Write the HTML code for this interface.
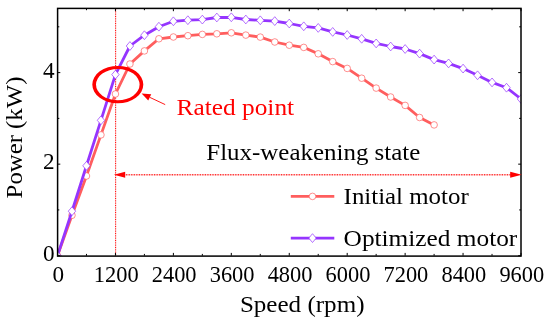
<!DOCTYPE html>
<html><head><meta charset="utf-8"><title>Power vs Speed</title>
<style>
html,body{margin:0;padding:0;background:#fff;}
body{width:550px;height:329px;overflow:hidden;}
svg{display:block;}
text{font-family:"Liberation Serif","DejaVu Serif",serif;font-size:23.3px;fill:#000;}
</style></head><body>
<svg width="550" height="329" viewBox="0 0 550 329">
<rect width="550" height="329" fill="#fff"/>
<!-- guides -->
<line x1="115.6" y1="9" x2="115.6" y2="255" stroke="#ff1010" stroke-width="1.1" stroke-dasharray="0.9 0.85"/>
<line x1="121" y1="174.75" x2="514" y2="174.75" stroke="#ff1010" stroke-width="1.4" stroke-dasharray="0.85 0.8"/>
<!-- series -->
<clipPath id="pc"><rect x="57.5" y="8.4" width="463.5" height="247.6"/></clipPath>
<g clip-path="url(#pc)">
<polyline fill="none" stroke="#ff5e5e" stroke-width="2.8" stroke-linejoin="round" points="57.5,255.7 71.98,215.3 86.47,176 100.95,134.9 115.44,94 129.93,64 144.41,50.9 158.89,38.8 173.38,37 187.87,35.7 202.35,34.4 216.83,33.8 231.32,32.8 245.81,35.1 260.29,37.1 274.77,42 289.26,45.2 303.75,47.4 318.23,53.8 332.71,61.6 347.2,68.4 361.69,78.2 376.17,88.1 390.65,97 405.14,105.4 419.62,117.5 434.11,124.9"/>
<circle cx="57.5" cy="255.7" r="3.3" fill="#fff" stroke="#ff5e5e" stroke-width="0.7"/><circle cx="71.98" cy="215.3" r="3.3" fill="#fff" stroke="#ff5e5e" stroke-width="0.7"/><circle cx="86.47" cy="176" r="3.3" fill="#fff" stroke="#ff5e5e" stroke-width="0.7"/><circle cx="100.95" cy="134.9" r="3.3" fill="#fff" stroke="#ff5e5e" stroke-width="0.7"/><circle cx="115.44" cy="94" r="3.3" fill="#fff" stroke="#ff5e5e" stroke-width="0.7"/><circle cx="129.93" cy="64" r="3.3" fill="#fff" stroke="#ff5e5e" stroke-width="0.7"/><circle cx="144.41" cy="50.9" r="3.3" fill="#fff" stroke="#ff5e5e" stroke-width="0.7"/><circle cx="158.89" cy="38.8" r="3.3" fill="#fff" stroke="#ff5e5e" stroke-width="0.7"/><circle cx="173.38" cy="37" r="3.3" fill="#fff" stroke="#ff5e5e" stroke-width="0.7"/><circle cx="187.87" cy="35.7" r="3.3" fill="#fff" stroke="#ff5e5e" stroke-width="0.7"/><circle cx="202.35" cy="34.4" r="3.3" fill="#fff" stroke="#ff5e5e" stroke-width="0.7"/><circle cx="216.83" cy="33.8" r="3.3" fill="#fff" stroke="#ff5e5e" stroke-width="0.7"/><circle cx="231.32" cy="32.8" r="3.3" fill="#fff" stroke="#ff5e5e" stroke-width="0.7"/><circle cx="245.81" cy="35.1" r="3.3" fill="#fff" stroke="#ff5e5e" stroke-width="0.7"/><circle cx="260.29" cy="37.1" r="3.3" fill="#fff" stroke="#ff5e5e" stroke-width="0.7"/><circle cx="274.77" cy="42" r="3.3" fill="#fff" stroke="#ff5e5e" stroke-width="0.7"/><circle cx="289.26" cy="45.2" r="3.3" fill="#fff" stroke="#ff5e5e" stroke-width="0.7"/><circle cx="303.75" cy="47.4" r="3.3" fill="#fff" stroke="#ff5e5e" stroke-width="0.7"/><circle cx="318.23" cy="53.8" r="3.3" fill="#fff" stroke="#ff5e5e" stroke-width="0.7"/><circle cx="332.71" cy="61.6" r="3.3" fill="#fff" stroke="#ff5e5e" stroke-width="0.7"/><circle cx="347.2" cy="68.4" r="3.3" fill="#fff" stroke="#ff5e5e" stroke-width="0.7"/><circle cx="361.69" cy="78.2" r="3.3" fill="#fff" stroke="#ff5e5e" stroke-width="0.7"/><circle cx="376.17" cy="88.1" r="3.3" fill="#fff" stroke="#ff5e5e" stroke-width="0.7"/><circle cx="390.65" cy="97" r="3.3" fill="#fff" stroke="#ff5e5e" stroke-width="0.7"/><circle cx="405.14" cy="105.4" r="3.3" fill="#fff" stroke="#ff5e5e" stroke-width="0.7"/><circle cx="419.62" cy="117.5" r="3.3" fill="#fff" stroke="#ff5e5e" stroke-width="0.7"/><circle cx="434.11" cy="124.9" r="3.3" fill="#fff" stroke="#ff5e5e" stroke-width="0.7"/>
<polyline fill="none" stroke="#9535ff" stroke-width="2.8" stroke-linejoin="round" points="57.5,255.7 71.98,211.2 86.47,165.8 100.95,120.3 115.44,74.6 129.93,46 144.41,35.2 158.89,26.7 173.38,21.3 187.87,20.2 202.35,19.6 216.83,17.5 231.32,17.3 245.81,19.5 260.29,20.3 274.77,21.1 289.26,23.5 303.75,26.3 318.23,27.9 332.71,31.9 347.2,35 361.69,38.8 376.17,43.4 390.65,46.5 405.14,49 419.62,53.6 434.11,59.6 448.59,63.4 463.08,68.6 477.56,75.3 492.05,82.4 506.53,87.7 521.02,99"/>
<path d="M53.8 255.7L57.5 251.3L61.2 255.7L57.5 260.1Z" fill="#fff" stroke="#9535ff" stroke-width="0.7"/><path d="M68.28 211.2L71.98 206.8L75.68 211.2L71.98 215.6Z" fill="#fff" stroke="#9535ff" stroke-width="0.7"/><path d="M82.77 165.8L86.47 161.4L90.17 165.8L86.47 170.2Z" fill="#fff" stroke="#9535ff" stroke-width="0.7"/><path d="M97.25 120.3L100.95 115.9L104.65 120.3L100.95 124.7Z" fill="#fff" stroke="#9535ff" stroke-width="0.7"/><path d="M111.74 74.6L115.44 70.2L119.14 74.6L115.44 79Z" fill="#fff" stroke="#9535ff" stroke-width="0.7"/><path d="M126.23 46L129.93 41.6L133.63 46L129.93 50.4Z" fill="#fff" stroke="#9535ff" stroke-width="0.7"/><path d="M140.71 35.2L144.41 30.8L148.11 35.2L144.41 39.6Z" fill="#fff" stroke="#9535ff" stroke-width="0.7"/><path d="M155.19 26.7L158.89 22.3L162.59 26.7L158.89 31.1Z" fill="#fff" stroke="#9535ff" stroke-width="0.7"/><path d="M169.68 21.3L173.38 16.9L177.08 21.3L173.38 25.7Z" fill="#fff" stroke="#9535ff" stroke-width="0.7"/><path d="M184.17 20.2L187.87 15.8L191.57 20.2L187.87 24.6Z" fill="#fff" stroke="#9535ff" stroke-width="0.7"/><path d="M198.65 19.6L202.35 15.2L206.05 19.6L202.35 24Z" fill="#fff" stroke="#9535ff" stroke-width="0.7"/><path d="M213.13 17.5L216.83 13.1L220.53 17.5L216.83 21.9Z" fill="#fff" stroke="#9535ff" stroke-width="0.7"/><path d="M227.62 17.3L231.32 12.9L235.02 17.3L231.32 21.7Z" fill="#fff" stroke="#9535ff" stroke-width="0.7"/><path d="M242.11 19.5L245.81 15.1L249.51 19.5L245.81 23.9Z" fill="#fff" stroke="#9535ff" stroke-width="0.7"/><path d="M256.59 20.3L260.29 15.9L263.99 20.3L260.29 24.7Z" fill="#fff" stroke="#9535ff" stroke-width="0.7"/><path d="M271.07 21.1L274.77 16.7L278.47 21.1L274.77 25.5Z" fill="#fff" stroke="#9535ff" stroke-width="0.7"/><path d="M285.56 23.5L289.26 19.1L292.96 23.5L289.26 27.9Z" fill="#fff" stroke="#9535ff" stroke-width="0.7"/><path d="M300.05 26.3L303.75 21.9L307.45 26.3L303.75 30.7Z" fill="#fff" stroke="#9535ff" stroke-width="0.7"/><path d="M314.53 27.9L318.23 23.5L321.93 27.9L318.23 32.3Z" fill="#fff" stroke="#9535ff" stroke-width="0.7"/><path d="M329.01 31.9L332.71 27.5L336.41 31.9L332.71 36.3Z" fill="#fff" stroke="#9535ff" stroke-width="0.7"/><path d="M343.5 35L347.2 30.6L350.9 35L347.2 39.4Z" fill="#fff" stroke="#9535ff" stroke-width="0.7"/><path d="M357.99 38.8L361.69 34.4L365.39 38.8L361.69 43.2Z" fill="#fff" stroke="#9535ff" stroke-width="0.7"/><path d="M372.47 43.4L376.17 39L379.87 43.4L376.17 47.8Z" fill="#fff" stroke="#9535ff" stroke-width="0.7"/><path d="M386.95 46.5L390.65 42.1L394.35 46.5L390.65 50.9Z" fill="#fff" stroke="#9535ff" stroke-width="0.7"/><path d="M401.44 49L405.14 44.6L408.84 49L405.14 53.4Z" fill="#fff" stroke="#9535ff" stroke-width="0.7"/><path d="M415.92 53.6L419.62 49.2L423.32 53.6L419.62 58Z" fill="#fff" stroke="#9535ff" stroke-width="0.7"/><path d="M430.41 59.6L434.11 55.2L437.81 59.6L434.11 64Z" fill="#fff" stroke="#9535ff" stroke-width="0.7"/><path d="M444.89 63.4L448.59 59L452.29 63.4L448.59 67.8Z" fill="#fff" stroke="#9535ff" stroke-width="0.7"/><path d="M459.38 68.6L463.08 64.2L466.78 68.6L463.08 73Z" fill="#fff" stroke="#9535ff" stroke-width="0.7"/><path d="M473.86 75.3L477.56 70.9L481.26 75.3L477.56 79.7Z" fill="#fff" stroke="#9535ff" stroke-width="0.7"/><path d="M488.35 82.4L492.05 78L495.75 82.4L492.05 86.8Z" fill="#fff" stroke="#9535ff" stroke-width="0.7"/><path d="M502.83 87.7L506.53 83.3L510.23 87.7L506.53 92.1Z" fill="#fff" stroke="#9535ff" stroke-width="0.7"/><path d="M517.32 99L521.02 94.6L524.72 99L521.02 103.4Z" fill="#fff" stroke="#9535ff" stroke-width="0.7"/>
</g>
<!-- frame -->
<rect x="57.6" y="8.4" width="463.4" height="247.7" fill="none" stroke="#000" stroke-width="1.5"/>
<g stroke="#000" stroke-width="1" fill="none"><path d="M57.5 8.4v2.8 M57.5 255.7v-2.8"/><path d="M86.4688 8.4v1.8 M86.4688 255.7v-1.8"/><path d="M115.438 8.4v2.8 M115.438 255.7v-2.8"/><path d="M144.406 8.4v1.8 M144.406 255.7v-1.8"/><path d="M173.375 8.4v2.8 M173.375 255.7v-2.8"/><path d="M202.344 8.4v1.8 M202.344 255.7v-1.8"/><path d="M231.312 8.4v2.8 M231.312 255.7v-2.8"/><path d="M260.281 8.4v1.8 M260.281 255.7v-1.8"/><path d="M289.25 8.4v2.8 M289.25 255.7v-2.8"/><path d="M318.219 8.4v1.8 M318.219 255.7v-1.8"/><path d="M347.188 8.4v2.8 M347.188 255.7v-2.8"/><path d="M376.156 8.4v1.8 M376.156 255.7v-1.8"/><path d="M405.125 8.4v2.8 M405.125 255.7v-2.8"/><path d="M434.094 8.4v1.8 M434.094 255.7v-1.8"/><path d="M463.062 8.4v2.8 M463.062 255.7v-2.8"/><path d="M492.031 8.4v1.8 M492.031 255.7v-1.8"/><path d="M521 8.4v2.8 M521 255.7v-2.8"/><path d="M57.5 255.7h2.8 M521 255.7h-2.8"/><path d="M57.5 209.925h1.8 M521 209.925h-1.8"/><path d="M57.5 164.15h2.8 M521 164.15h-2.8"/><path d="M57.5 118.375h1.8 M521 118.375h-1.8"/><path d="M57.5 72.6h2.8 M521 72.6h-2.8"/><path d="M57.5 26.825h1.8 M521 26.825h-1.8"/></g>
<!-- annotation -->
<path d="M113.9 174.75L125.2 171.7V177.8Z" fill="#ff0000"/>
<path d="M521.7 174.8L510.2 171.8V177.8Z" fill="#ff0000"/>
<path fill="#ff0000" fill-rule="evenodd" d="M92.3 84.6a25.5 18.7 0 1 0 51 0a25.5 18.7 0 1 0 -51 0Z M96.0 84.6a21.8 15.6 0 1 0 43.6 0a21.8 15.6 0 1 0 -43.6 0Z"/>
<line x1="165.2" y1="104.6" x2="149.74" y2="97.33" stroke="#ff1a1a" stroke-width="1"/>
<path d="M141.60 93.50L151.23 94.16L148.25 100.50Z" fill="#ff0000"/>
<text x="176.6" y="114.9" textLength="117.5" lengthAdjust="spacingAndGlyphs" style="fill:#ff0000">Rated point</text>
<text x="206.3" y="159.8" textLength="214" lengthAdjust="spacingAndGlyphs">Flux-weakening state</text>
<!-- legend -->
<line x1="290.8" y1="196.4" x2="334.3" y2="196.4" stroke="#ff5e5e" stroke-width="2.8"/>
<circle cx="312.5" cy="196.4" r="3.3" fill="#fff" stroke="#ff5e5e" stroke-width="0.7"/>
<text x="343.6" y="203.9" textLength="125.1" lengthAdjust="spacingAndGlyphs">Initial motor</text>
<line x1="290.8" y1="238.1" x2="334.3" y2="238.1" stroke="#9535ff" stroke-width="2.8"/>
<path d="M308.8 238.1L312.5 233.7L316.2 238.1L312.5 242.5Z" fill="#fff" stroke="#9535ff" stroke-width="0.7"/>
<text x="343.6" y="246" textLength="173.7" lengthAdjust="spacingAndGlyphs">Optimized motor</text>
<!-- axis labels -->
<g><text x="58.3" y="281.9" text-anchor="middle" textLength="11.6" lengthAdjust="spacingAndGlyphs">0</text><text x="116.237" y="281.9" text-anchor="middle" textLength="44.8" lengthAdjust="spacingAndGlyphs">1200</text><text x="174.175" y="281.9" text-anchor="middle" textLength="44.8" lengthAdjust="spacingAndGlyphs">2400</text><text x="232.113" y="281.9" text-anchor="middle" textLength="44.8" lengthAdjust="spacingAndGlyphs">3600</text><text x="290.05" y="281.9" text-anchor="middle" textLength="44.8" lengthAdjust="spacingAndGlyphs">4800</text><text x="347.988" y="281.9" text-anchor="middle" textLength="44.8" lengthAdjust="spacingAndGlyphs">6000</text><text x="405.925" y="281.9" text-anchor="middle" textLength="44.8" lengthAdjust="spacingAndGlyphs">7200</text><text x="463.863" y="281.9" text-anchor="middle" textLength="44.8" lengthAdjust="spacingAndGlyphs">8400</text><text x="521.8" y="281.9" text-anchor="middle" textLength="44.8" lengthAdjust="spacingAndGlyphs">9600</text></g>
<g><text x="54.6" y="260.9" text-anchor="end" textLength="11.6" lengthAdjust="spacingAndGlyphs">0</text><text x="54.6" y="169.35" text-anchor="end" textLength="11.6" lengthAdjust="spacingAndGlyphs">2</text><text x="54.6" y="77.8" text-anchor="end" textLength="11.6" lengthAdjust="spacingAndGlyphs">4</text></g>
<text x="239.9" y="312.1" textLength="124.6" lengthAdjust="spacingAndGlyphs">Speed (rpm)</text>
<text transform="translate(22 198.4) rotate(-90)" x="0" y="0" textLength="121.8" lengthAdjust="spacingAndGlyphs">Power (kW)</text>
</svg>
</body></html>
